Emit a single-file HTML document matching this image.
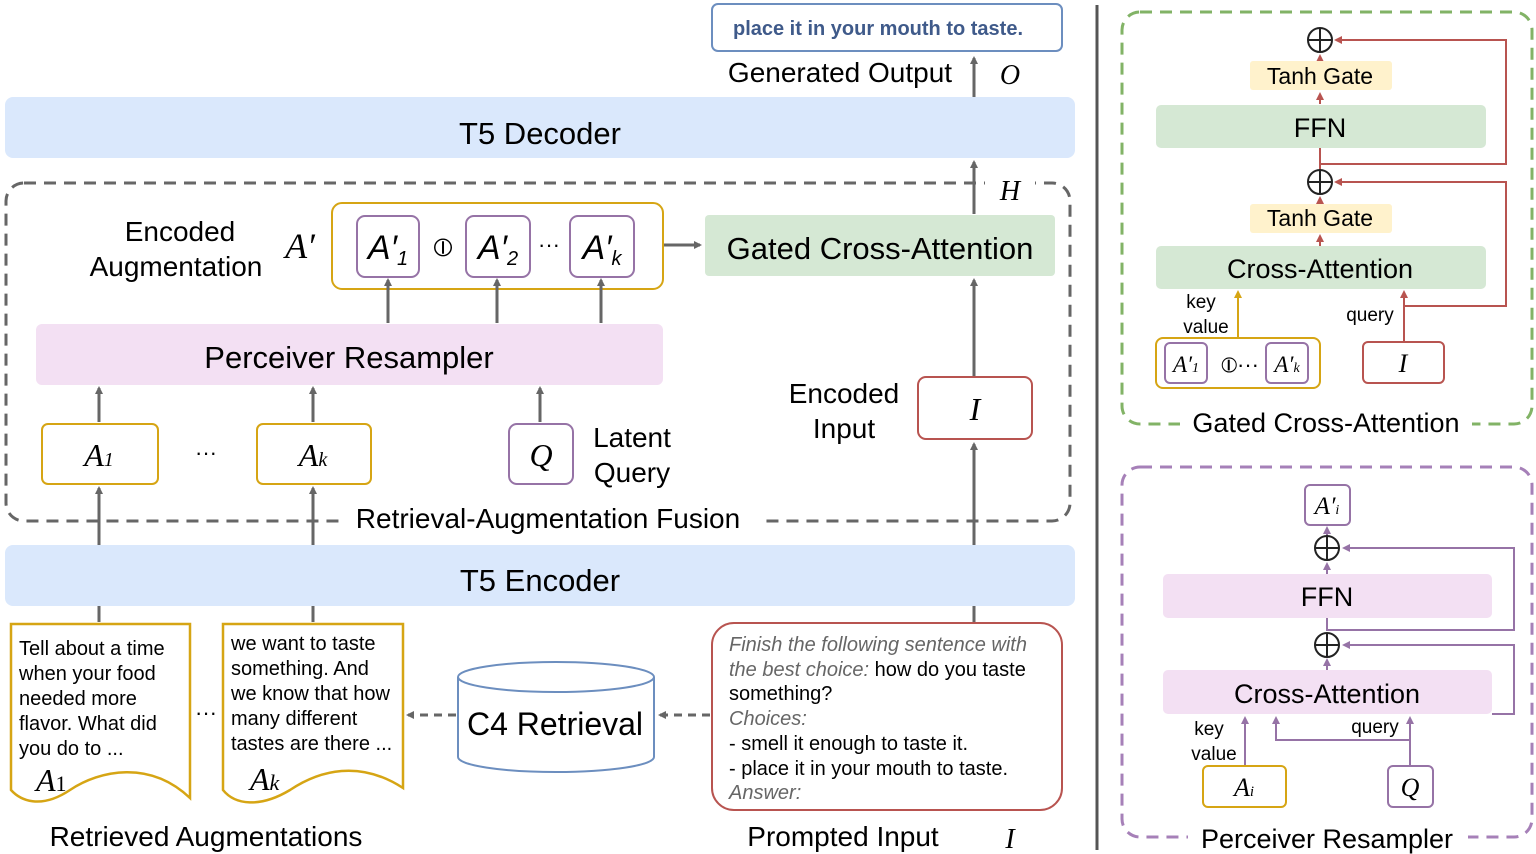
<!DOCTYPE html>
<html><head><meta charset="utf-8"><style>body{margin:0;background:#fff}svg{display:block}text{font-family:"Liberation Sans",sans-serif}.m{font-family:"Liberation Serif",serif;font-style:italic}</style></head>
<body>
<svg width="1536" height="854" viewBox="0 0 1536 854" xmlns="http://www.w3.org/2000/svg">
<defs>
<marker id="ag" markerWidth="8" markerHeight="8" refX="6" refY="4" orient="auto" markerUnits="userSpaceOnUse"><path d="M0,0L8,4L0,8z" fill="#666"/></marker>
<marker id="ar" markerWidth="8" markerHeight="8" refX="6" refY="4" orient="auto" markerUnits="userSpaceOnUse"><path d="M0,0L8,4L0,8z" fill="#b85450"/></marker>
<marker id="ay" markerWidth="8" markerHeight="8" refX="6" refY="4" orient="auto" markerUnits="userSpaceOnUse"><path d="M0,0L8,4L0,8z" fill="#d6a514"/></marker>
<marker id="ap" markerWidth="8" markerHeight="8" refX="6" refY="4" orient="auto" markerUnits="userSpaceOnUse"><path d="M0,0L8,4L0,8z" fill="#9673a6"/></marker>
</defs>
<g stroke="#666" stroke-width="3" fill="none">
<rect x="6" y="183" width="1064" height="338" rx="18" stroke-dasharray="12,8"/>
</g>
<rect x="346" y="508" width="414" height="26" fill="#fff"/>
<rect x="985" y="170" width="50" height="30" fill="#fff"/>
<rect x="5" y="97" width="1070" height="61" rx="8" fill="#dae8fc"/>
<text x="540" y="144" font-size="31" text-anchor="middle">T5 Decoder</text>
<rect x="5" y="545" width="1070" height="61" rx="8" fill="#dae8fc"/>
<text x="540" y="591" font-size="31" text-anchor="middle">T5 Encoder</text>
<rect x="712" y="4" width="350" height="47" rx="6" fill="#fff" stroke="#6c8ebf" stroke-width="2"/>
<text x="878" y="35" font-size="20" font-weight="bold" fill="#3f5a8a" text-anchor="middle">place it in your mouth to taste.</text>
<text x="840" y="82" font-size="28" text-anchor="middle">Generated Output</text>
<text x="1010" y="84" font-size="28" class="m" text-anchor="middle">O</text>
<text x="1010" y="200" font-size="28" class="m" text-anchor="middle">H</text>
<g stroke="#666" stroke-width="3" fill="none">
<line x1="974" y1="97" x2="974" y2="58" marker-end="url(#ag)"/>
<line x1="974" y1="214" x2="974" y2="162" marker-end="url(#ag)"/>
<line x1="974" y1="376" x2="974" y2="280" marker-end="url(#ag)"/>
<line x1="974" y1="545" x2="974" y2="444" marker-end="url(#ag)"/>
<line x1="974" y1="622" x2="974" y2="606"/>
<line x1="99" y1="545" x2="99" y2="488" marker-end="url(#ag)"/>
<line x1="313" y1="545" x2="313" y2="488" marker-end="url(#ag)"/>
<line x1="99" y1="622" x2="99" y2="606"/><line x1="313" y1="622" x2="313" y2="606"/>
<line x1="99" y1="422" x2="99" y2="388" marker-end="url(#ag)"/>
<line x1="313" y1="422" x2="313" y2="388" marker-end="url(#ag)"/>
<line x1="540" y1="422" x2="540" y2="388" marker-end="url(#ag)"/>
<line x1="664" y1="245" x2="700" y2="245" marker-end="url(#ag)"/>
<line x1="710" y1="715" x2="660" y2="715" stroke-dasharray="8,6" marker-end="url(#ag)"/>
<line x1="456" y1="715" x2="408" y2="715" stroke-dasharray="8,6" marker-end="url(#ag)"/>
</g>
<text x="548" y="528" font-size="28" text-anchor="middle">Retrieval-Augmentation Fusion</text>
<text x="180" y="241" font-size="28" text-anchor="middle">Encoded</text>
<text x="176" y="276" font-size="28" text-anchor="middle">Augmentation</text>
<text x="300" y="258" font-size="36" class="m" text-anchor="middle">A′</text>
<rect x="332" y="203" width="331" height="86" rx="10" fill="#fff" stroke="#d6a514" stroke-width="2"/>
<g stroke="#666" stroke-width="3" fill="none">
<line x1="388" y1="323" x2="388" y2="280" marker-end="url(#ag)"/>
<line x1="497" y1="323" x2="497" y2="280" marker-end="url(#ag)"/>
<line x1="601" y1="323" x2="601" y2="280" marker-end="url(#ag)"/>
</g>
<g fill="#fff" stroke="#9673a6" stroke-width="2">
<rect x="357" y="216" width="62" height="61" rx="8"/><rect x="466" y="216" width="64" height="61" rx="8"/><rect x="570" y="216" width="64" height="61" rx="8"/>
</g>
<g font-size="34" class="m" text-anchor="middle"><text x="388" y="259">A′<tspan font-size="20" dy="6">1</tspan></text><text x="498" y="259">A′<tspan font-size="20" dy="6">2</tspan></text><text x="602" y="259">A′<tspan font-size="20" dy="6">k</tspan></text></g>
<text x="443" y="256" font-size="26" text-anchor="middle">⦶</text>
<text x="549" y="252" font-size="22" text-anchor="middle">···</text>
<rect x="705" y="215" width="350" height="61" rx="4" fill="#d5e8d4"/>
<text x="880" y="259" font-size="31" text-anchor="middle">Gated Cross-Attention</text>
<rect x="36" y="324" width="627" height="61" rx="6" fill="#f3e0f3"/>
<text x="349" y="368" font-size="31" text-anchor="middle">Perceiver Resampler</text>
<g fill="#fff" stroke="#d6a514" stroke-width="2"><rect x="42" y="424" width="116" height="60" rx="6"/><rect x="257" y="424" width="114" height="60" rx="6"/></g>
<text x="99" y="466" font-size="32" class="m" text-anchor="middle">A<tspan font-size="20">1</tspan></text>
<text x="313" y="466" font-size="32" class="m" text-anchor="middle">A<tspan font-size="20">k</tspan></text>
<text x="206" y="460" font-size="22" text-anchor="middle">···</text>
<rect x="509" y="424" width="64" height="60" rx="8" fill="#fff" stroke="#9673a6" stroke-width="2"/>
<text x="541" y="466" font-size="32" class="m" text-anchor="middle">Q</text>
<text x="632" y="447" font-size="28" text-anchor="middle">Latent</text>
<text x="632" y="482" font-size="28" text-anchor="middle">Query</text>
<text x="844" y="403" font-size="28" text-anchor="middle">Encoded</text>
<text x="844" y="438" font-size="28" text-anchor="middle">Input</text>
<rect x="918" y="377" width="114" height="62" rx="8" fill="#fff" stroke="#b85450" stroke-width="2"/>
<text x="975" y="420" font-size="32" class="m" text-anchor="middle">I</text>
<g fill="#fff" stroke="#d6a514" stroke-width="2.5">
<path d="M11,624H190V798C150,760 100,770 70,790C40,810 20,800 11,790Z"/>
<path d="M223,624H403V788C360,760 320,770 290,790C260,808 235,805 223,790Z"/>
</g>
<g font-size="20"><text x="19" y="655">Tell about a time</text><text x="19" y="680">when your food</text><text x="19" y="705">needed more</text><text x="19" y="730">flavor. What did</text><text x="19" y="755">you do to ...</text>
<text x="231" y="650">we want to taste</text><text x="231" y="675">something. And</text><text x="231" y="700">we know that how</text><text x="231" y="725">many different</text><text x="231" y="750">tastes are there ...</text></g>
<text x="36" y="791" font-size="32" class="m">A<tspan font-size="22" font-style="normal">1</tspan></text>
<text x="250" y="790" font-size="32" class="m">A<tspan font-size="22">k</tspan></text>
<text x="206" y="720" font-size="22" text-anchor="middle">···</text>
<text x="206" y="846" font-size="28" text-anchor="middle">Retrieved Augmentations</text>
<path d="M458,677V757A98,15 0 0 0 654,757V677" fill="#fff" stroke="#6c8ebf" stroke-width="2"/>
<ellipse cx="556" cy="677" rx="98" ry="15" fill="#fff" stroke="#6c8ebf" stroke-width="2"/>
<text x="555" y="735" font-size="32" text-anchor="middle">C4 Retrieval</text>
<rect x="712" y="623" width="350" height="187" rx="22" fill="#fff" stroke="#b85450" stroke-width="2"/>
<g font-size="20"><text x="729" y="651" fill="#666" font-style="italic">Finish the following sentence with</text>
<text x="729" y="676"><tspan fill="#666" font-style="italic">the best choice:</tspan> how do you taste</text>
<text x="729" y="700">something?</text><text x="729" y="725" fill="#666" font-style="italic">Choices:</text>
<text x="729" y="750">- smell it enough to taste it.</text><text x="729" y="775">- place it in your mouth to taste.</text>
<text x="729" y="799" fill="#666" font-style="italic">Answer:</text></g>
<text x="843" y="846" font-size="28" text-anchor="middle">Prompted Input</text>
<text x="1010" y="848" font-size="28" class="m" text-anchor="middle">I</text>
<line x1="1097" y1="5" x2="1097" y2="850" stroke="#555" stroke-width="3"/>
<rect x="1122" y="12" width="410" height="412" rx="18" fill="none" stroke="#82b366" stroke-width="3" stroke-dasharray="12,8"/>
<rect x="1180" y="410" width="292" height="28" fill="#fff"/>
<text x="1326" y="432" font-size="27" text-anchor="middle">Gated Cross-Attention</text>
<g stroke="#b85450" stroke-width="2" fill="none">
<line x1="1404" y1="342" x2="1404" y2="292" marker-end="url(#ar)"/>
<path d="M1404,306H1506V182H1336" marker-end="url(#ar)"/>
<path d="M1320,148V164H1506V40H1336" marker-end="url(#ar)"/>
<line x1="1320" y1="246" x2="1320" y2="236" marker-end="url(#ar)"/>
<line x1="1320" y1="206" x2="1320" y2="198" marker-end="url(#ar)"/>
<line x1="1320" y1="104" x2="1320" y2="94" marker-end="url(#ar)"/>
<line x1="1320" y1="64" x2="1320" y2="56" marker-end="url(#ar)"/>
<line x1="1320" y1="172" x2="1320" y2="150" />
</g>
<g stroke="#222" stroke-width="2" fill="none">
<circle cx="1320" cy="182" r="12"/><line x1="1308" y1="182" x2="1332" y2="182"/><line x1="1320" y1="170" x2="1320" y2="194"/>
<circle cx="1320" cy="40" r="12"/><line x1="1308" y1="40" x2="1332" y2="40"/><line x1="1320" y1="28" x2="1320" y2="52"/>
</g>
<rect x="1250" y="61" width="142" height="29" rx="3" fill="#fff2cc"/><text x="1320" y="84" font-size="23" text-anchor="middle">Tanh Gate</text>
<rect x="1250" y="204" width="142" height="29" rx="3" fill="#fff2cc"/><text x="1320" y="226" font-size="23" text-anchor="middle">Tanh Gate</text>
<rect x="1156" y="105" width="330" height="43" rx="5" fill="#d5e8d4"/><text x="1320" y="137" font-size="27" text-anchor="middle">FFN</text>
<rect x="1156" y="246" width="330" height="43" rx="5" fill="#d5e8d4"/><text x="1320" y="278" font-size="27" text-anchor="middle">Cross-Attention</text>
<line x1="1238" y1="338" x2="1238" y2="292" stroke="#d6a514" stroke-width="2" marker-end="url(#ay)"/>
<text x="1201" y="308" font-size="19" text-anchor="middle">key</text><text x="1206" y="333" font-size="19" text-anchor="middle">value</text>
<text x="1370" y="321" font-size="19" text-anchor="middle">query</text>
<rect x="1156" y="338" width="164" height="50" rx="7" fill="#fff" stroke="#d6a514" stroke-width="2"/>
<rect x="1165" y="343" width="42" height="40" rx="5" fill="#fff" stroke="#9673a6" stroke-width="2"/>
<rect x="1266" y="343" width="42" height="40" rx="5" fill="#fff" stroke="#9673a6" stroke-width="2"/>
<text x="1186" y="372" font-size="23" class="m" text-anchor="middle">A′<tspan font-size="14">1</tspan></text>
<text x="1287" y="372" font-size="23" class="m" text-anchor="middle">A′<tspan font-size="14">k</tspan></text>
<text x="1240" y="372" font-size="22" text-anchor="middle">⦶···</text>
<rect x="1363" y="342" width="81" height="41" rx="5" fill="#fff" stroke="#b85450" stroke-width="2"/>
<text x="1403" y="372" font-size="26" class="m" text-anchor="middle">I</text>
<rect x="1122" y="467" width="410" height="370" rx="18" fill="none" stroke="#a680b8" stroke-width="3" stroke-dasharray="12,8"/>
<rect x="1188" y="824" width="280" height="30" fill="#fff"/>
<text x="1327" y="848" font-size="27" text-anchor="middle">Perceiver Resampler</text>
<g stroke="#9673a6" stroke-width="2" fill="none">
<path d="M1410,766V740H1276V718" marker-end="url(#ap)"/>
<line x1="1410" y1="740" x2="1410" y2="718" marker-end="url(#ap)"/>
<line x1="1245" y1="766" x2="1245" y2="718" marker-end="url(#ap)"/>
<path d="M1492,714H1514V645H1344" marker-end="url(#ap)"/>
<path d="M1327,618V630H1514V548H1344" marker-end="url(#ap)"/>
<line x1="1327" y1="670" x2="1327" y2="660" marker-end="url(#ap)"/>
<line x1="1327" y1="630" x2="1327" y2="620"/>
<line x1="1327" y1="574" x2="1327" y2="564" marker-end="url(#ap)"/>
<line x1="1327" y1="536" x2="1327" y2="528" marker-end="url(#ap)"/>
</g>
<g stroke="#222" stroke-width="2" fill="none">
<circle cx="1327" cy="645" r="12"/><line x1="1315" y1="645" x2="1339" y2="645"/><line x1="1327" y1="633" x2="1327" y2="657"/>
<circle cx="1327" cy="548" r="12"/><line x1="1315" y1="548" x2="1339" y2="548"/><line x1="1327" y1="536" x2="1327" y2="560"/>
</g>
<rect x="1163" y="574" width="329" height="44" rx="5" fill="#f3e0f3"/><text x="1327" y="606" font-size="27" text-anchor="middle">FFN</text>
<rect x="1163" y="670" width="329" height="44" rx="5" fill="#f3e0f3"/><text x="1327" y="703" font-size="27" text-anchor="middle">Cross-Attention</text>
<rect x="1305" y="485" width="45" height="40" rx="5" fill="#fff" stroke="#9673a6" stroke-width="2"/>
<text x="1327" y="514" font-size="25" class="m" text-anchor="middle">A′<tspan font-size="14">i</tspan></text>
<text x="1209" y="735" font-size="19" text-anchor="middle">key</text><text x="1214" y="760" font-size="19" text-anchor="middle">value</text>
<text x="1375" y="733" font-size="19" text-anchor="middle">query</text>
<rect x="1203" y="766" width="83" height="41" rx="5" fill="#fff" stroke="#d6a514" stroke-width="2"/>
<text x="1244" y="796" font-size="26" class="m" text-anchor="middle">A<tspan font-size="15">i</tspan></text>
<rect x="1388" y="766" width="45" height="41" rx="5" fill="#fff" stroke="#9673a6" stroke-width="2"/>
<text x="1410" y="796" font-size="26" class="m" text-anchor="middle">Q</text>
</svg>
</body></html>
